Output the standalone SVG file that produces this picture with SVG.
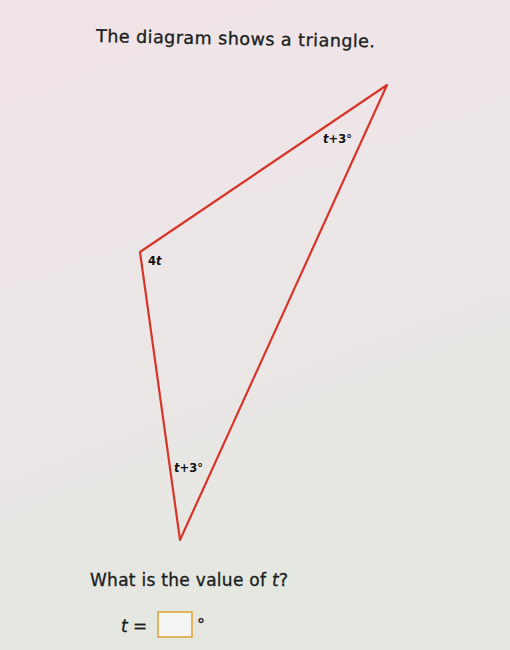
<svg xmlns="http://www.w3.org/2000/svg" width="510" height="650" viewBox="0 0 510 650">
<defs>
<linearGradient id="bg" x1="0" y1="0" x2="0.3" y2="1">
<stop offset="0" stop-color="#f1e3e7"/>
<stop offset="0.5" stop-color="#ece6e7"/>
<stop offset="1" stop-color="#e4e7e0"/>
</linearGradient>
<style>
.t{font-family:"DejaVu Sans",Verdana,sans-serif;fill:#1c1f22;stroke:#1c1f22;stroke-width:0.35}
.lbl{font-family:"DejaVu Sans",Verdana,sans-serif;font-size:11.5px;font-weight:bold;fill:#111}
.edge{fill:none;stroke:#d8352a;stroke-width:2.2;stroke-linejoin:round}
</style>
</defs>
<rect width="510" height="650" fill="url(#bg)"/>
<text class="t" x="96" y="42" font-size="17.5" textLength="279" transform="rotate(1.1 96 42)">The diagram shows a triangle.</text>
<g id="connectors">
<polygon class="edge" points="387,85 140,252 180,540"/>
</g>
<g id="vertex-top"><text class="lbl" x="323" y="143"><tspan font-style="italic">t</tspan>+3°</text></g>
<g id="vertex-left"><text class="lbl" x="148" y="265">4<tspan font-style="italic">t</tspan></text></g>
<g id="vertex-bottom"><text class="lbl" x="174" y="472"><tspan font-style="italic">t</tspan>+3°</text></g>
<text class="t" x="90" y="586" font-size="17" textLength="198">What is the value of <tspan font-style="italic">t</tspan>?</text>
<text class="t" x="121" y="632" font-size="17"><tspan font-style="italic">t</tspan> =</text>
<rect x="158" y="612" width="34" height="25" fill="#f4f5f2" stroke="#e0a030" stroke-width="1.5"/>
<text class="t" x="197" y="630" font-size="16">°</text>
</svg>
